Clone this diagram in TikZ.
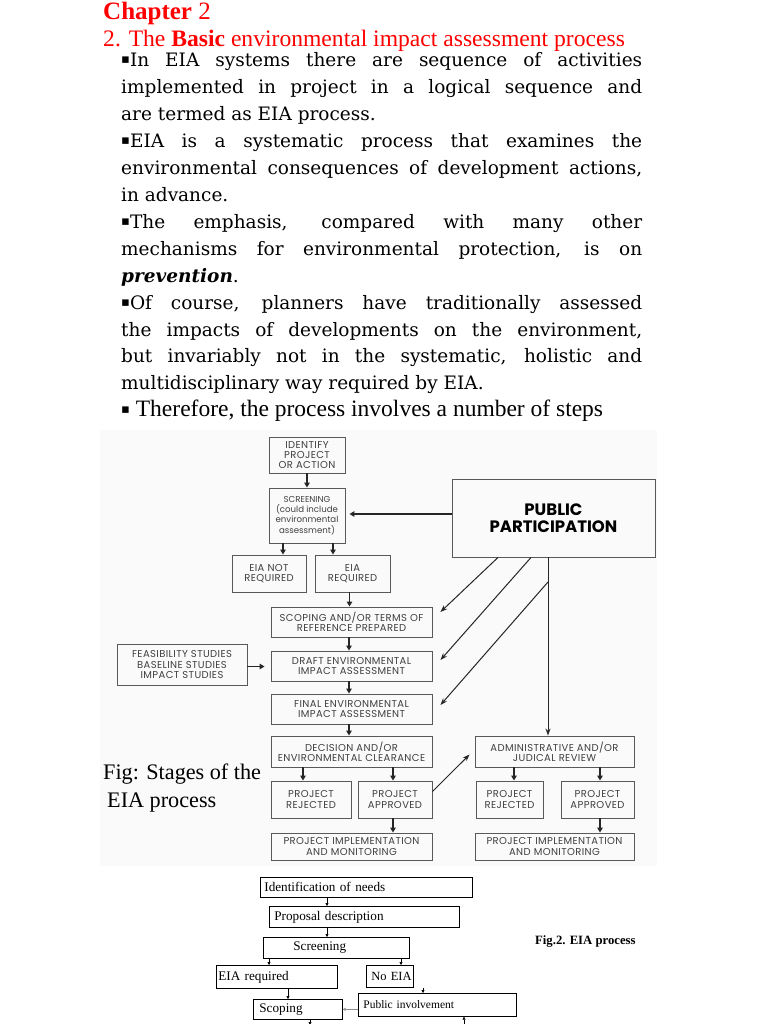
\documentclass[tikz,border=0pt]{standalone}
\usepackage{fontspec}
\usetikzlibrary{arrows.meta}
\newfontfamily\cambria{Liberation Serif}
\newfontfamily\futura[LetterSpace=4]{Poppins}
\newfontfamily\futurab{Poppins}
\newfontfamily\dejavu{DejaVu Sans}
\newfontfamily\bodyfont{DejaVu Serif}
\definecolor{headred}{RGB}{255,0,0}
\newcommand{\blt}{\raisebox{3pt}{\dejavu\fontsize{13}{13}\selectfont ▪}}
\newcommand{\jline}[1]{\makebox[521pt][s]{#1}}
\tikzset{
  bodyline/.style={anchor=base west, inner sep=0pt, font=\bodyfont\fontsize{18.5}{26}\selectfont},
  bx/.style={draw=black!65, line width=0.9pt, inner sep=0pt, align=center, text=black!75,
    font=\futura\fontsize{10}{10.2}\selectfont},
  ar/.style={line width=1.4pt, black!85, -{Triangle[length=5pt,width=5.5pt]}},
  dg/.style={line width=1pt, black!85, -{Stealth[length=7pt,width=5pt]}},
  bb/.style={draw=black, line width=0.7pt, anchor=north west, inner ysep=0pt, align=left,
    font=\cambria\fontsize{13.2}{14}\selectfont},
  sa/.style={line width=0.6pt, -{Triangle[length=3pt,width=3pt]}},
}
\begin{document}
\begin{tikzpicture}[x=1pt,y=-1pt]
\useasboundingbox (0,0) rectangle (768,1024);
\fill[white] (0,0) rectangle (768,1024);
\fill[black!2] (100,430) rectangle (657,866);

% headings
\node[anchor=base west, inner sep=0pt, text=headred, font=\cambria\fontsize{25}{26}\selectfont] (ch) at (103,20) {\textbf{Chapter} 2};
\node[anchor=base west, inner sep=0pt, text=headred, font=\cambria\fontsize{23.6}{26}\selectfont] (ttl) at (103,47) {2. The \textbf{Basic} environmental impact assessment process};

% body text
\node[bodyline] (l0) at (121,67.0) {\jline{\blt In EIA systems there are sequence of activities}};
\node[bodyline] (l1) at (121,93.9) {\jline{implemented in project in a logical sequence and}};
\node[bodyline] (l2) at (121,120.8) {are termed as EIA process.};
\node[bodyline] (l3) at (121,147.7) {\jline{\blt EIA is a systematic process that examines the}};
\node[bodyline] (l4) at (121,174.6) {\jline{environmental consequences of development actions,}};
\node[bodyline] (l5) at (121,201.5) {in advance.};
\node[bodyline] (l6) at (121,228.4) {\jline{\blt The emphasis, compared with many other}};
\node[bodyline] (l7) at (121,255.3) {\jline{mechanisms for environmental protection, is on}};
\node[bodyline] (l8) at (121,282.2) {\textbf{\textit{prevention}}.};
\node[bodyline] (l9) at (121,309.1) {\jline{\blt Of course, planners have traditionally assessed}};
\node[bodyline] (l10) at (121,336.0) {\jline{the impacts of developments on the environment,}};
\node[bodyline] (l11) at (121,362.9) {\jline{but invariably not in the systematic, holistic and}};
\node[bodyline] (l12) at (121,389.8) {multidisciplinary way required by EIA.};
\node[anchor=base west, inner sep=0pt, font=\cambria\fontsize{23.5}{26}\selectfont] (l13) at (121,416) {\blt{} Therefore, the process involves a number of steps};

% figure caption
\node[anchor=base west, inner sep=0pt, font=\cambria\fontsize{22.2}{26}\selectfont] (fc1) at (103,779) {Fig: Stages of the};
\node[anchor=base west, inner sep=0pt, font=\cambria\fontsize{22.2}{26}\selectfont] (fc2) at (107,807) {EIA process};

% diagram 1 boxes
\node[bx, minimum width=76pt, minimum height=36pt] (ident) at (307,455) {IDENTIFY\\PROJECT\\OR ACTION};
\node[bx, minimum width=76pt, minimum height=55pt, font=\futurab\fontsize{8.6}{10.2}\selectfont] (screen) at (307,515.5) {SCREENING\\(could include\\environmental\\assessment)};
\node[bx, minimum width=203pt, minimum height=78pt, text=black, font=\futurab\bfseries\fontsize{16.5}{17}\selectfont] (pub) at (553.5,518) {PUBLIC\\PARTICIPATION};
\node[bx, minimum width=74pt, minimum height=37pt] (notreq) at (269,573.5) {EIA NOT\\REQUIRED};
\node[bx, minimum width=75pt, minimum height=37pt] (req) at (352.5,573.5) {EIA\\REQUIRED};
\node[bx, minimum width=161pt, minimum height=30pt] (scope) at (351.5,622) {SCOPING AND/OR TERMS OF\\REFERENCE PREPARED};
\node[bx, minimum width=130pt, minimum height=41pt] (feas) at (182,664.5) {FEASIBILITY STUDIES\\BASELINE STUDIES\\IMPACT STUDIES};
\node[bx, minimum width=161pt, minimum height=30pt] (draft) at (351.5,666) {DRAFT ENVIRONMENTAL\\IMPACT ASSESSMENT};
\node[bx, minimum width=161pt, minimum height=30pt] (final) at (351.5,709) {FINAL ENVIRONMENTAL\\IMPACT ASSESSMENT};
\node[bx, minimum width=161pt, minimum height=31pt] (decision) at (351.5,751.5) {DECISION AND/OR\\ENVIRONMENTAL CLEARANCE};
\node[bx, minimum width=159pt, minimum height=31pt] (admin) at (554.5,751.5) {ADMINISTRATIVE AND/OR\\JUDICAL REVIEW};
\node[bx, minimum width=80pt, minimum height=37pt] (rej1) at (311,799.5) {PROJECT\\REJECTED};
\node[bx, minimum width=74pt, minimum height=37pt] (app1) at (395,799.5) {PROJECT\\APPROVED};
\node[bx, minimum width=67pt, minimum height=37pt] (rej2) at (509.5,799.5) {PROJECT\\REJECTED};
\node[bx, minimum width=73pt, minimum height=37pt] (app2) at (597.5,799.5) {PROJECT\\APPROVED};
\node[bx, minimum width=161pt, minimum height=27pt] (impl1) at (351.5,846.5) {PROJECT IMPLEMENTATION\\AND MONITORING};
\node[bx, minimum width=159pt, minimum height=27pt] (impl2) at (554.5,846.5) {PROJECT IMPLEMENTATION\\AND MONITORING};

% diagram 1 connectors
\draw[ar] (ident) -- (screen);
\draw[ar, shorten >=4pt] ([yshift=4pt]pub.west) -- ([yshift=4pt]pub.west -| screen.east);
\draw[ar] ([xshift=-24pt]screen.south) -- ([xshift=-24pt]screen.south |- notreq.north);
\draw[ar] ([xshift=26pt]screen.south) -- ([xshift=26pt]screen.south |- req.north);
\draw[ar] ([xshift=-3pt]req.south) -- ([xshift=-3pt]req.south |- scope.north);
\draw[ar] ([xshift=-2.5pt]scope.south) -- ([xshift=-2.5pt]draft.north);
\draw[ar] ([xshift=-2.5pt]draft.south) -- ([xshift=-2.5pt]final.north);
\draw[ar] ([xshift=-2.5pt]final.south) -- ([xshift=-2.5pt]decision.north);
\draw[ar, shorten >=6pt] ([yshift=-2pt]feas.east) -- ([yshift=-2pt]feas.east -| draft.west);

\coordinate (p1) at ([xshift=-55.5pt]pub.south);
\coordinate (p2) at ([xshift=-22.5pt]pub.south);
\coordinate (p3) at ([xshift=-5.5pt]pub.south);
\coordinate (br) at (548,582);
\coordinate (t1) at ([xshift=8pt,yshift=10pt]scope.east);
\coordinate (t2) at ([xshift=8pt,yshift=6pt]draft.east);
\coordinate (t3) at ([xshift=8pt,yshift=4pt]final.east);
\draw[dg] (p1) -- (t1);
\draw[dg] (p2) -- (t2);
\draw[dg] (br) -- (t3);
\draw[dg] (p3) -- (p3 |- admin.north);

\draw[ar] ([xshift=-48.5pt]decision.south) -- ([xshift=-48.5pt]decision.south |- rej1.north);
\draw[ar] ([xshift=41.5pt]decision.south) -- ([xshift=41.5pt]decision.south |- app1.north);
\draw[ar] ([xshift=-2pt]app1.south) -- ([xshift=-2pt]app1.south |- impl1.north);
\coordinate (ad) at ([xshift=-5pt,yshift=-3pt]admin.west);
\draw[dg] ([yshift=8pt]app1.east) -- (ad);
\draw[ar] ([xshift=-40.5pt]admin.south) -- ([xshift=-40.5pt]admin.south |- rej2.north);
\draw[ar] ([xshift=45.5pt]admin.south) -- ([xshift=45.5pt]admin.south |- app2.north);
\draw[ar] ([xshift=2.5pt]app2.south) -- ([xshift=2.5pt]app2.south |- impl2.north);

% diagram 2
\node[bb, minimum width=212pt, minimum height=20pt, inner xsep=4pt, text width=204pt] (needs) at (260,877) {Identification of needs};
\node[bb, minimum width=190pt, minimum height=21pt, inner xsep=5pt, text width=180pt] (prop) at (269,906) {Proposal description};
\node[bb, minimum width=146pt, minimum height=21pt, inner xsep=4pt, text width=138pt] (scr2) at (263,937) {\hspace*{26pt}Screening};
\node[bb, minimum width=121pt, minimum height=23pt, inner xsep=2pt, text width=117pt] (eiareq) at (216,965) {EIA required};
\node[bb, minimum width=47pt, minimum height=22pt, inner xsep=0pt, text width=47pt, font=\cambria\fontsize{12.5}{14}\selectfont] (noeia) at (366,965) {\hspace*{5pt}\mbox{No EIA}};
\node[bb, minimum width=89pt, minimum height=20pt, inner xsep=6pt, text width=77pt] (scoping) at (253,999) {Scoping};
\node[bb, minimum width=158pt, minimum height=23pt, inner xsep=5pt, text width=148pt, font=\cambria\fontsize{11.5}{12}\selectfont] (pubinv) at (358,993) {Public involvement};
\node[anchor=base west, inner sep=0pt, font=\cambria\bfseries\fontsize{12.7}{14}\selectfont] (fig2) at (535,944) {Fig.2. EIA process};

\draw[sa] ([xshift=67pt]needs.south west) -- ([xshift=67pt]needs.south west |- prop.north);
\draw[sa] ([xshift=58pt]prop.south west) -- ([xshift=58pt]prop.south west |- scr2.north);
\draw[sa] ([xshift=6pt]scr2.south west) -- ([xshift=6pt]scr2.south west |- eiareq.north);
\draw[sa] ([xshift=138pt]scr2.south west) -- ([xshift=138pt]scr2.south west |- noeia.north);
\draw[sa] ([xshift=72pt]eiareq.south west) -- ([xshift=72pt]eiareq.south west |- scoping.north);
\draw[sa] ([xshift=57pt]noeia.south west) -- ([xshift=57pt]noeia.south west |- pubinv.north);
\draw[sa, black!45, line width=1pt] ([yshift=-4.5pt]pubinv.west) -- ([yshift=-4.5pt]pubinv.west -| scoping.east);
\coordinate (scout) at ([xshift=57pt]scoping.south west |- 0,1025);
\draw[sa] ([xshift=57pt]scoping.south west) -- (scout);
\coordinate (piin) at ([xshift=106pt]pubinv.south west |- 0,1032);
\draw[sa] (piin) -- ([xshift=106pt]pubinv.south west);
\end{tikzpicture}
\end{document}
